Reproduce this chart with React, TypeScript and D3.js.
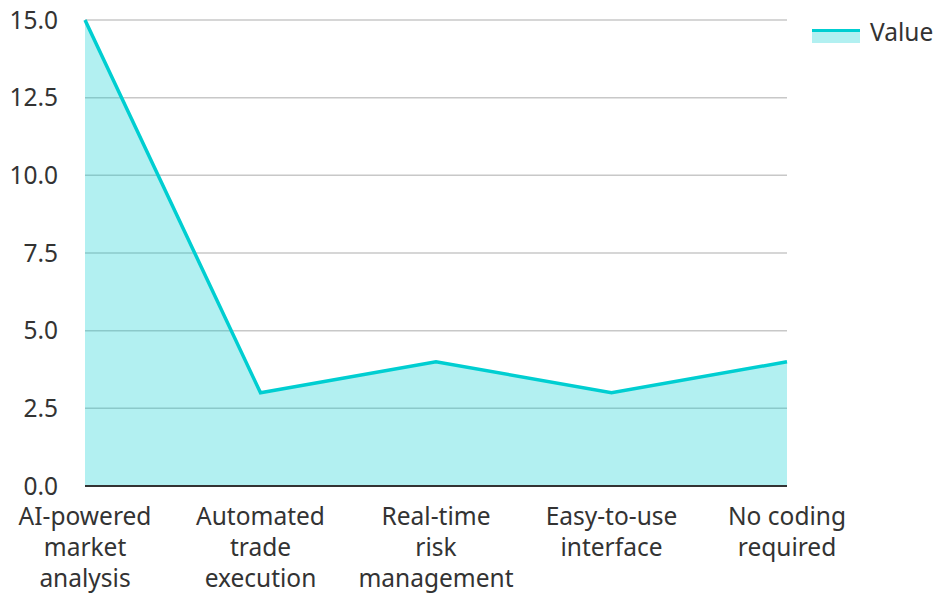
import { useEffect, useRef } from "react";
import * as d3 from "d3";

const categories = [
  ["AI-powered", "market", "analysis"],
  ["Automated", "trade", "execution"],
  ["Real-time", "risk", "management"],
  ["Easy-to-use", "interface"],
  ["No coding", "required"],
];
const values = [15, 3, 4, 3, 4];
const yTicks = [0, 2.5, 5, 7.5, 10, 12.5, 15];
const seriesName = "Value";

const width = 936;
const height = 593;
const color = "#00CED1";
const font = "'Noto Sans', sans-serif";
const fontSize = "24.5px";

const App = () => {
  const ref = useRef<SVGSVGElement>(null);

  useEffect(() => {
    if (!ref.current) return;
    const svg = d3.select(ref.current);
    svg.selectAll("*").remove();

    const left = 85;
    const right = 787;
    const top = 20;
    const bottom = 486;

    const x = d3
      .scalePoint<number>()
      .domain(d3.range(values.length))
      .range([left, right]);
    const y = d3.scaleLinear().domain([0, 15]).range([bottom, top]);

    // grid lines
    svg
      .append("g")
      .selectAll("line")
      .data(yTicks.filter((t) => t > 0))
      .enter()
      .append("line")
      .attr("x1", left)
      .attr("x2", right)
      .attr("y1", (d) => y(d))
      .attr("y2", (d) => y(d))
      .attr("stroke", "#c8c8c8")
      .attr("stroke-width", 1.5);

    // y tick labels
    svg
      .append("g")
      .selectAll("text")
      .data(yTicks)
      .enter()
      .append("text")
      .attr("x", 58)
      .attr("y", (d) => y(d))
      .attr("dy", "0.35em")
      .attr("text-anchor", "end")
      .style("font-family", font)
      .style("font-size", fontSize)
      .style("fill", "#333")
      .text((d) => d.toFixed(1));

    // area
    const area = d3
      .area<number>()
      .x((_, i) => x(i) as number)
      .y0(bottom)
      .y1((d) => y(d));
    svg
      .append("path")
      .datum(values)
      .attr("d", area)
      .attr("fill", color)
      .attr("fill-opacity", 0.3);

    const line = d3
      .line<number>()
      .x((_, i) => x(i) as number)
      .y((d) => y(d));
    svg
      .append("path")
      .datum(values)
      .attr("d", line)
      .attr("fill", "none")
      .attr("stroke", color)
      .attr("stroke-width", 3.5);

    // x axis line
    svg
      .append("line")
      .attr("x1", left)
      .attr("x2", right)
      .attr("y1", bottom)
      .attr("y2", bottom)
      .attr("stroke", "#333")
      .attr("stroke-width", 2);

    // x labels
    const xl = svg
      .append("g")
      .selectAll("text")
      .data(categories)
      .enter()
      .append("text")
      .attr("x", (_, i) => x(i) as number)
      .attr("y", 525)
      .attr("text-anchor", "middle")
      .style("font-family", font)
      .style("font-size", fontSize)
      .style("fill", "#333");
    xl.selectAll("tspan")
      .data((d) => d)
      .enter()
      .append("tspan")
      .attr("x", function () {
        return (this as any).parentNode.getAttribute("x");
      })
      .attr("dy", (_, i) => (i === 0 ? 0 : 31))
      .text((d) => d);

    // legend
    const lg = svg.append("g").attr("transform", "translate(812, 29)");
    lg.append("rect")
      .attr("width", 48)
      .attr("height", 14)
      .attr("fill", color)
      .attr("fill-opacity", 0.3);
    lg.append("line")
      .attr("x1", 0)
      .attr("x2", 48)
      .attr("y1", 1.5)
      .attr("y2", 1.5)
      .attr("stroke", color)
      .attr("stroke-width", 3);
    lg.append("text")
      .attr("x", 58)
      .attr("y", 3)
      .attr("dy", "0.35em")
      .style("font-family", font)
      .style("font-size", fontSize)
      .style("fill", "#333")
      .text(seriesName);
  }, []);

  return (
    <svg
      ref={ref}
      width={width}
      height={height}
      style={{ position: "absolute", left: 0, top: 0, display: "block" }}
    />
  );
};

export default App;
